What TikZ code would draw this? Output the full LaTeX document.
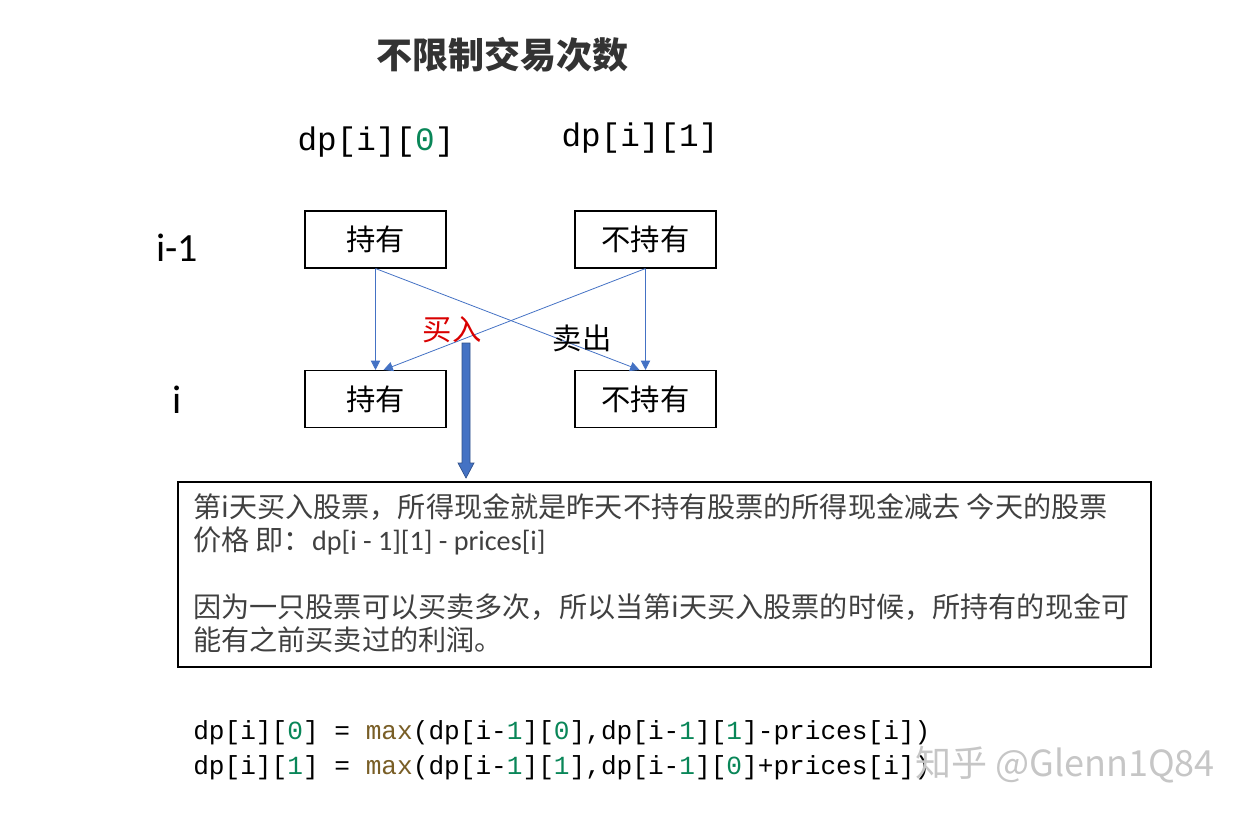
\documentclass[tikz,border=0pt]{standalone}
\usepackage{fontspec}
\setmainfont{Carlito}
\setmonofont{Liberation Mono}
\newfontfamily\cjk{Noto Sans CJK SC}
\usetikzlibrary{arrows.meta}
\definecolor{lb}{HTML}{4472C4}
\definecolor{cg}{HTML}{098658}
\definecolor{cm}{HTML}{795E26}
\definecolor{tx}{HTML}{404040}
\tikzset{
 st/.style={draw=black,thick,minimum width=141\unitpx,minimum height=57\unitpx,inner sep=0pt,font=\cjk\fontsize{22}{24}\selectfont},
 conn/.style={draw=lb,line width=0.6pt,-{Triangle[width=7pt,length=7pt]}},
 para/.style={anchor=base west,inner sep=0pt,text=tx,font=\cjk\fontsize{21.1}{24}\selectfont},
 code/.style={anchor=base west,inner sep=0pt,font=\ttfamily\fontsize{19.6}{21}\selectfont},
}
\newlength\unitpx \setlength\unitpx{0.75pt}
\begin{document}
\begin{tikzpicture}[x=0.75pt,y=-0.75pt]
\useasboundingbox (0,0) rectangle (1250,817);
\node[font=\cjk\bfseries\fontsize{27}{30}\selectfont,text=tx!80!black] (title) at (502,55) {不限制交易次数};
\node[font=\ttfamily\fontsize{24.5}{26}\selectfont] (h0) at (376,142) {dp[i][\textcolor{cg}{0}]};
\node[font=\ttfamily\fontsize{24.5}{26}\selectfont] (h1) at (640,138) {dp[i][1]};
\node[font=\fontsize{30}{32}\selectfont] (r1) at (177,248) {i-1};
\node[font=\fontsize{30}{32}\selectfont] (r0) at (177,400) {i};
\node[st] (a) at (375.5,239.5) {持有};
\node[st] (b) at (645.5,239.5) {不持有};
\node[st] (c) at (375.5,399) {持有};
\node[st] (d) at (645.5,399) {不持有};
\draw[conn] (a.south) -- (c.north);
\draw[conn] (b.south) -- (d.north);
\draw[conn] (a.south) -- ([xshift=-6\unitpx]d.north);
\draw[conn] (b.south) -- ([xshift=8\unitpx]c.north);
\node[font=\cjk\fontsize{22}{24}\selectfont,text=red!85!black] (buy) at (452,330) {买入};
\node[font=\cjk\fontsize{22}{24}\selectfont] (sell) at (582,338) {卖出};
\node[draw=black,thick,minimum width=973\unitpx,minimum height=185\unitpx,inner sep=0pt] (box) at (664.5,574.5) {};
\draw[draw=lb!70!black,fill=lb,line width=0.5pt] (462,343) -- (470,343) -- (470,463) -- (474,463) -- (466,478) -- (458,463) -- (462,463) -- cycle;
\node[para] (p1) at (193,517) {第i天买入股票，所得现金就是昨天不持有股票的所得现金减去 今天的股票};
\node[para] (p2) at (193,550) {价格 即：{\rmfamily dp[i - 1][1] - prices[i]}};
\node[para] (p3) at (193,617) {因为一只股票可以买卖多次，所以当第i天买入股票的时候，所持有的现金可};
\node[para] (p4) at (193,650) {能有之前买卖过的利润。};
\node[code] (c1) at (193,739) {dp[i][\textcolor{cg}{0}] = \textcolor{cm}{max}(dp[i-\textcolor{cg}{1}][\textcolor{cg}{0}],dp[i-\textcolor{cg}{1}][\textcolor{cg}{1}]-prices[i])};
\node[code] (c2) at (193,774) {dp[i][\textcolor{cg}{1}] = \textcolor{cm}{max}(dp[i-\textcolor{cg}{1}][\textcolor{cg}{1}],dp[i-\textcolor{cg}{1}][\textcolor{cg}{0}]+prices[i])};
\node[font=\cjk\fontsize{27}{29}\selectfont,text=gray!45,anchor=base west,inner sep=0pt] (wm) at (915,776) {知乎 @Glenn1Q84};
\end{tikzpicture}
\end{document}
